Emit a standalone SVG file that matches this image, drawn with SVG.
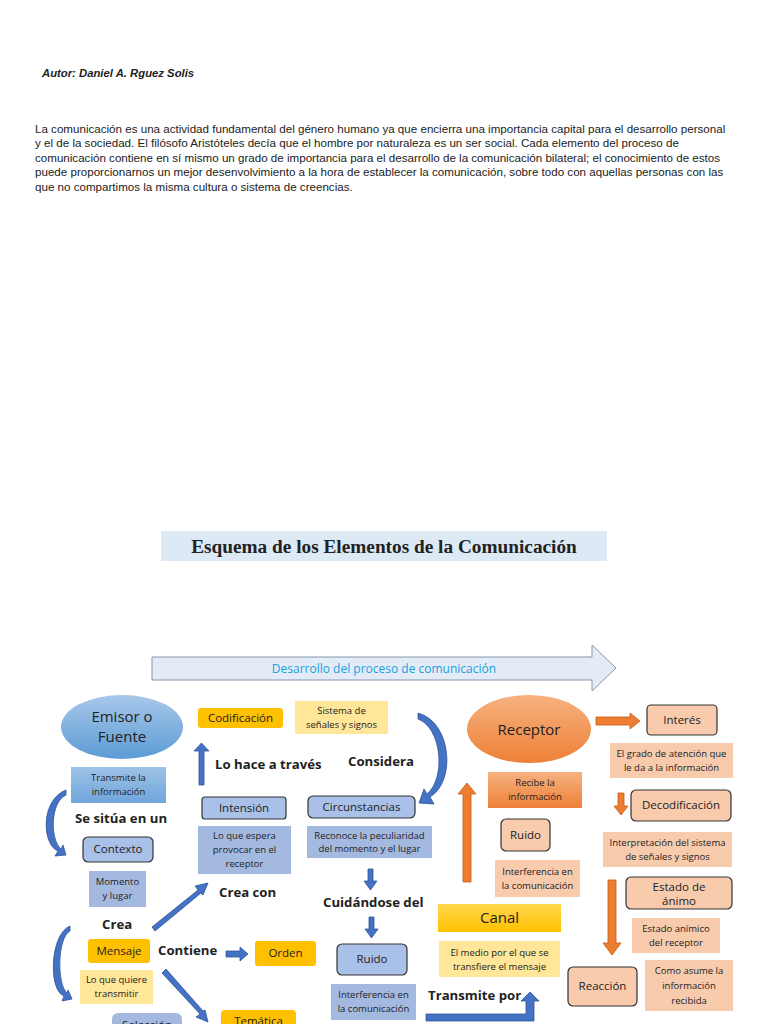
<svg xmlns="http://www.w3.org/2000/svg" width="768" height="1024" viewBox="0 0 768 1024">
<defs>
<linearGradient id="gb" x1="0" y1="0" x2="0" y2="1"><stop offset="0" stop-color="#a9c8ea"/><stop offset="1" stop-color="#5b9bd5"/></linearGradient>
<linearGradient id="go" x1="0" y1="0" x2="0" y2="1"><stop offset="0" stop-color="#f6b27f"/><stop offset="1" stop-color="#ee8038"/></linearGradient>
<linearGradient id="gy" x1="0" y1="0" x2="0" y2="1"><stop offset="0" stop-color="#ffd84d"/><stop offset="1" stop-color="#ffc000"/></linearGradient>
<linearGradient id="gt" x1="0" y1="0" x2="0" y2="1"><stop offset="0" stop-color="#9dc3e6"/><stop offset="1" stop-color="#6fa5dc"/></linearGradient>
</defs>
<style>
text{font-family:"Open Sans","Noto Sans",sans-serif;fill:#222}
.p{font-family:"Liberation Sans",Arial,sans-serif;font-size:11.6px}
.s{font-size:9.5px;text-anchor:middle}
.m{font-size:11.5px;text-anchor:middle}
.l{font-size:13.2px;font-weight:bold}
.bb{fill:#a9c0e8;stroke:#333;stroke-width:1.2}
.bl{fill:#a4b9e0}
.ob{fill:#f8cbad;stroke:#333;stroke-width:1.2}
.ol{fill:#f8cbad}
.yb{fill:#ffc000}
.yl{fill:#ffe699}
.ba{fill:#4472c4;stroke:#2f5597;stroke-width:0.8}
.oa{fill:#ed7d31;stroke:#c55a11;stroke-width:0.8}
</style>
<rect width="768" height="1024" fill="#fff"/>
<text x="42" y="77" class="p" style="font-style:italic;font-weight:bold;font-size:11.3px">Autor: Daniel A. Rguez Solis</text>
<g id="intro">
<text x="35" y="133" class="p">La comunicación es una actividad fundamental del género humano ya que encierra una importancia capital para el desarrollo personal</text>
<text x="35" y="147" class="p">y el de la sociedad. El filósofo Aristóteles decía que el hombre por naturaleza es un ser social. Cada elemento del proceso de</text>
<text x="35" y="162" class="p">comunicación contiene en sí mismo un grado de importancia para el desarrollo de la comunicación bilateral; el conocimiento de estos</text>
<text x="35" y="176" class="p">puede proporcionarnos un mejor desenvolvimiento a la hora de establecer la comunicación, sobre todo con aquellas personas con las</text>
<text x="35" y="191" class="p">que no compartimos la misma cultura o sistema de creencias.</text>
</g>
<g id="title"><rect x="161" y="531" width="446" height="30" fill="#dde9f5"/>
<text x="384" y="553" text-anchor="middle" style="font-family:'Liberation Serif',serif;font-size:19.3px;font-weight:bold">Esquema de los Elementos de la Comunicación</text></g>
<g id="process"><polygon points="152,657 592,657 592,645 616,668 592,691 592,680 152,680" fill="#e3ecf6" stroke="#8496b0" stroke-width="1"/>
<text x="384" y="673" text-anchor="middle" style="font-size:12px;fill:#1aa0e0">Desarrollo del proceso de comunicación</text></g>

<g id="connectors">
<polygon class="ba" points="199,785 204,785 204,751 209,751 201.5,743 194,751 199,751"/>
<path class="ba" d="M418,713 C452,722 456,782 430,797 L434,804 L419,803 L424,789 L427,794 C446,778 442,728 418,719 Z"/>
<path class="ba" d="M66,790 C40,800 42,845 58,851 L55,856 L66,855 L63,845 L61,849 C50,840 50,802 66,795 Z"/>
<polygon class="ba" points="368,869 373,869 373,881 377,881 370.5,890 364,881 368,881"/>
<polygon class="ba" points="369,917 374,917 374,929 378,929 371.5,938 365,929 369,929"/>
<polygon class="ba" points="426,1014 526,1014 526,1001 521,1001 530,992 539,1001 534,1001 534,1021 426,1021"/>
<polygon class="ba" points="152,927 198,890 195,886 208,883 203,895 201,893 155,931"/>
<polygon class="ba" points="226,951 240,951 240,947 248,954 240,961 240,957 226,957"/>
<path class="ba" d="M70,926 C50,934 48,990 64,996 L62,1001 L72,999 L68,990 L67,993 C57,985 57,938 70,931 Z"/>
<polygon class="ba" points="162,973 200,1014 196,1017 208,1022 205,1010 203,1011 166,969"/>
<polygon class="oa" points="596,717 630,717 630,713 640,721 630,729 630,725 596,725"/>
<polygon class="oa" points="463,882 471,882 471,794 476,794 467,783 458,794 463,794"/>
<polygon class="oa" points="618,793 624,793 624,806 628,806 621,815 614,806 618,806"/>
<polygon class="oa" points="608,880 616,880 616,943 621,943 612,955 603,943 608,943"/>
</g>

<g id="emisor"><ellipse cx="122" cy="727" rx="61" ry="32" fill="url(#gb)"/>
<text x="122" y="722" text-anchor="middle" style="font-size:15px">Emisor o</text>
<text x="122" y="742" text-anchor="middle" style="font-size:15px">Fuente</text></g>
<g id="codificacion"><rect x="198" y="708" width="85" height="20" rx="3" class="yb"/><text x="240.5" y="722" class="m">Codificación</text></g>
<g id="sistema"><rect x="295" y="701" width="93" height="33" class="yl"/><text x="341.5" y="714" class="s">Sistema de</text><text x="341.5" y="728" class="s">señales y signos</text></g>
<text x="215" y="769" class="l">Lo hace a través</text>
<text x="348" y="766" class="l">Considera</text>
<g id="transmite"><rect x="71" y="767" width="95" height="36" fill="url(#gt)"/><text x="118.5" y="781" class="s">Transmite la</text><text x="118.5" y="795" class="s">información</text></g>
<text x="75" y="823" class="l">Se sitúa en un</text>
<g id="contexto"><rect x="83" y="837" width="70" height="25" rx="5" class="bb"/><text x="118" y="853" class="m">Contexto</text></g>
<g id="momento"><rect x="89" y="871" width="57" height="36" class="bl"/><text x="117.5" y="885" class="s">Momento</text><text x="117.5" y="899" class="s">y lugar</text></g>
<g id="intension"><rect x="202" y="797" width="84" height="22" rx="3" class="bb"/><text x="244" y="812" class="m">Intensión</text></g>
<g id="loqueespera"><rect x="198" y="826" width="93" height="48" class="bl"/><text x="244.5" y="839" class="s">Lo que espera</text><text x="244.5" y="853" class="s">provocar en el</text><text x="244.5" y="867" class="s">receptor</text></g>
<g id="circunstancias"><rect x="308" y="796" width="107" height="22" rx="5" class="bb"/><text x="361.5" y="811" class="m">Circunstancias</text></g>
<g id="reconoce"><rect x="307" y="826" width="125" height="32" class="bl"/><text x="369.5" y="839" class="s">Reconoce la peculiaridad</text><text x="369.5" y="852" class="s">del momento y el lugar</text></g>
<text x="219" y="897" class="l">Crea con</text>
<text x="323" y="907" class="l">Cuidándose del</text>
<g id="ruido1"><rect x="337" y="944" width="70" height="31" rx="5" class="bb"/><text x="372" y="963" class="m">Ruido</text></g>
<g id="interf1"><rect x="331" y="984" width="85" height="36" class="bl"/><text x="373.5" y="998" class="s">Interferencia en</text><text x="373.5" y="1012" class="s">la comunicación</text></g>
<text x="428" y="1000" class="l">Transmite por</text>
<text x="102" y="929" class="l">Crea</text>
<g id="mensaje"><rect x="88" y="939" width="62" height="24" rx="3" class="yb"/><text x="119" y="955" class="m">Mensaje</text></g>
<text x="158" y="955" class="l">Contiene</text>
<g id="orden"><rect x="255" y="941" width="61" height="25" rx="3" class="yb"/><text x="285.5" y="957" class="m">Orden</text></g>
<g id="loquequiere"><rect x="80" y="970" width="73" height="34" class="yl"/><text x="116.5" y="983" class="s">Lo que quiere</text><text x="116.5" y="997" class="s">transmitir</text></g>
<g id="seleccion"><rect x="112" y="1013" width="70" height="20" rx="6" class="bl"/><text x="147" y="1029" class="m">Selección</text></g>
<g id="tematica"><rect x="221" y="1010" width="75" height="22" rx="4" class="yb"/><text x="258.5" y="1025" class="m">Temática</text></g>

<g id="receptor"><ellipse cx="529" cy="729" rx="62" ry="34" fill="url(#go)"/><text x="529" y="735" text-anchor="middle" style="font-size:15px">Receptor</text></g>
<g id="interes"><rect x="647" y="705" width="70" height="30" rx="4" class="ob"/><text x="682" y="724" class="m">Interés</text></g>
<g id="elgrado"><rect x="610" y="743" width="123" height="35" class="ol"/><text x="671.5" y="757" class="s">El grado de atención que</text><text x="671.5" y="771" class="s">le da a la información</text></g>
<g id="recibe"><rect x="488" y="772" width="94" height="36" fill="url(#go)"/><text x="535" y="786" class="s">Recibe la</text><text x="535" y="800" class="s">información</text></g>
<g id="ruido2"><rect x="501" y="819" width="49" height="32" rx="5" class="ob"/><text x="525.5" y="839" class="m">Ruido</text></g>
<g id="interf2"><rect x="495" y="860" width="85" height="37" class="ol"/><text x="537.5" y="875" class="s">Interferencia en</text><text x="537.5" y="889" class="s">la comunicación</text></g>
<g id="decod"><rect x="631" y="790" width="100" height="31" rx="5" class="ob"/><text x="681" y="809" class="m">Decodificación</text></g>
<g id="interp"><rect x="603" y="832" width="129" height="35" class="ol"/><text x="667.5" y="846" class="s">Interpretación del sistema</text><text x="667.5" y="860" class="s">de señales y signos</text></g>
<g id="estado"><rect x="626" y="877" width="106" height="32" rx="5" class="ob"/><text x="679" y="891" class="m">Estado de</text><text x="679" y="905" class="m">ánimo</text></g>
<g id="estadoanimico"><rect x="632" y="918" width="88" height="35" class="ol"/><text x="676" y="932" class="s">Estado anímico</text><text x="676" y="946" class="s">del receptor</text></g>
<g id="canal"><rect x="438" y="904" width="123" height="28" fill="url(#gy)"/><text x="499.5" y="923" text-anchor="middle" style="font-size:15px">Canal</text></g>
<g id="medio"><rect x="439" y="941" width="121" height="36" class="yl"/><text x="499.5" y="956" class="s">El medio por el que se</text><text x="499.5" y="970" class="s">transfiere el mensaje</text></g>
<g id="reaccion"><rect x="568" y="967" width="69" height="39" rx="5" class="ob"/><text x="602.5" y="990" class="m">Reacción</text></g>
<g id="comoasume"><rect x="645" y="960" width="88" height="51" class="ol"/><text x="689" y="974" class="s">Como asume la</text><text x="689" y="989" class="s">información</text><text x="689" y="1004" class="s">recibida</text></g>
</svg>
